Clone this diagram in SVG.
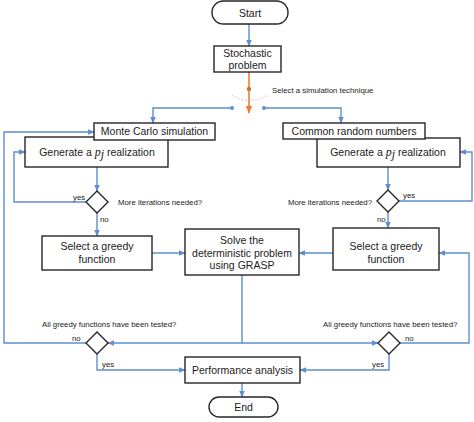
<svg xmlns="http://www.w3.org/2000/svg" width="474" height="422" viewBox="0 0 474 422">
<defs>
<style>
.box{fill:#fff;stroke:#262626;stroke-width:1.4}
.t{font-family:"Liberation Sans",Arial,sans-serif;font-size:10.5px;fill:#1a1a1a;text-anchor:middle}
.s{font-family:"Liberation Sans",Arial,sans-serif;font-size:7.8px;fill:#1a1a1a}
.c{fill:none;stroke:#5b8fd0;stroke-width:1.4}
.m{font-family:"Liberation Serif","Times New Roman",serif;font-style:italic;font-size:12px}
</style>
<marker id="a" viewBox="0 0 6 6" refX="5.5" refY="3" markerWidth="5" markerHeight="5" orient="auto"><path d="M0,0.5 L6,3 L0,5.5 z" fill="#5b8fd0"/></marker>
<marker id="o" viewBox="0 0 6 6" refX="5.5" refY="3" markerWidth="5" markerHeight="5" orient="auto"><path d="M0,0.5 L6,3 L0,5.5 z" fill="#ed7d31"/></marker>
</defs>
<rect width="474" height="422" fill="#fff"/>
<g id="connectors">
<line class="c" x1="249" y1="24" x2="249" y2="46" marker-end="url(#a)"/>
<line x1="249" y1="72" x2="249" y2="113" stroke="#ed7d31" stroke-width="1.6" marker-end="url(#o)"/>
<circle cx="249" cy="89" r="2.2" fill="#c0763f"/>
<path d="M232,95 Q249,106 268,95" fill="none" stroke="#f4a6a0" stroke-width="1" stroke-dasharray="1.5,2"/>
<polyline class="c" points="232,108 153,108 153,123" marker-end="url(#a)"/>
<circle cx="232" cy="108" r="2" fill="#5b8fd0"/>
<polyline class="c" points="264,108 341,108 341,123" marker-end="url(#a)"/>
<circle cx="264" cy="108" r="2" fill="#5b8fd0"/>
<line class="c" x1="97" y1="167" x2="97" y2="191" marker-end="url(#a)"/>
<polyline class="c" points="86,202 14,202 14,152 25,152" marker-end="url(#a)"/>
<line class="c" x1="97" y1="213" x2="97" y2="236" marker-end="url(#a)"/>
<line class="c" x1="152" y1="253" x2="185" y2="253" marker-end="url(#a)"/>
<line class="c" x1="388" y1="167" x2="388" y2="190" marker-end="url(#a)"/>
<polyline class="c" points="399,201 472,201 472,152 460,152" marker-end="url(#a)"/>
<line class="c" x1="388" y1="212" x2="388" y2="228" marker-end="url(#a)"/>
<line class="c" x1="333" y1="253" x2="299" y2="253" marker-end="url(#a)"/>
<line class="c" x1="242" y1="275" x2="242" y2="343"/>
<line class="c" x1="242" y1="343" x2="108" y2="343" marker-end="url(#a)"/>
<line class="c" x1="242" y1="343" x2="378" y2="343" marker-end="url(#a)"/>
<polyline class="c" points="86,343 4,343 4,132 94,132" marker-end="url(#a)"/>
<polyline class="c" points="400,343 469,343 469,253 439,253" marker-end="url(#a)"/>
<polyline class="c" points="97,354 97,370 185,370" marker-end="url(#a)"/>
<polyline class="c" points="389,354 389,370 300,370" marker-end="url(#a)"/>
<line class="c" x1="242" y1="383" x2="242" y2="397" marker-end="url(#a)"/>
</g>
<g id="start"><rect class="box" x="212" y="1" width="76" height="23" rx="11.5"/><text class="t" x="250" y="17">Start</text></g>
<g id="stochastic"><rect class="box" x="214" y="46" width="67" height="26"/><text class="t" x="247.5" y="57">Stochastic</text><text class="t" x="247.5" y="69">problem</text></g>
<text class="s" x="272" y="93">Select a simulation technique</text>
<g id="gen-left"><rect class="box" x="25" y="137" width="143" height="30"/><text class="t" x="97" y="156">Generate a  <tspan class="m">p</tspan><tspan class="m" font-size="8px" dy="2">j</tspan><tspan dy="-2"> realization</tspan></text></g>
<g id="monte-carlo"><rect class="box" x="94" y="123" width="121" height="17"/><text class="t" x="154.5" y="135">Monte Carlo simulation</text></g>
<g id="gen-right"><rect class="box" x="317" y="138" width="143" height="29"/><text class="t" x="388" y="156">Generate a  <tspan class="m">p</tspan><tspan class="m" font-size="8px" dy="2">j</tspan><tspan dy="-2"> realization</tspan></text></g>
<g id="crn"><rect class="box" x="283" y="123" width="142" height="16"/><text class="t" x="354" y="135">Common random numbers</text></g>
<g id="iter-left"><polygon class="box" points="97,191 108,202 97,213 86,202"/><text class="s" x="73" y="200">yes</text><text class="s" x="118" y="205">More iterations needed?</text><text class="s" x="100" y="222">no</text></g>
<g id="iter-right"><polygon class="box" points="388,190 399,201 388,212 377,201"/><text class="s" x="403" y="198">yes</text><text class="s" x="372" y="205" text-anchor="end">More iterations needed?</text><text class="s" x="377" y="222">no</text></g>
<g id="select-left"><rect class="box" x="42" y="236" width="110" height="34"/><text class="t" x="97" y="250">Select a greedy</text><text class="t" x="97" y="263">function</text></g>
<g id="solve"><rect class="box" x="185" y="229" width="114" height="46"/><text class="t" x="242" y="244">Solve the</text><text class="t" x="242" y="257">deterministic problem</text><text class="t" x="242" y="269">using GRASP</text></g>
<g id="select-right"><rect class="box" x="333" y="228" width="106" height="42"/><text class="t" x="386" y="250">Select a greedy</text><text class="t" x="386" y="263">function</text></g>
<g id="tested-left"><polygon class="box" points="97,332 108,343 97,354 86,343"/><text class="s" x="42" y="327">All greedy functions have been tested?</text><text class="s" x="72" y="341">no</text><text class="s" x="102" y="367">yes</text></g>
<g id="tested-right"><polygon class="box" points="389,332 400,343 389,354 378,343"/><text class="s" x="323" y="327">All greedy functions have been tested?</text><text class="s" x="405" y="341">no</text><text class="s" x="372" y="367">yes</text></g>
<g id="performance"><rect class="box" x="185" y="357" width="115" height="26"/><text class="t" x="242.5" y="374">Performance analysis</text></g>
<g id="end"><rect class="box" x="209" y="397" width="69" height="20" rx="10"/><text class="t" x="243.5" y="411">End</text></g>
</svg>
